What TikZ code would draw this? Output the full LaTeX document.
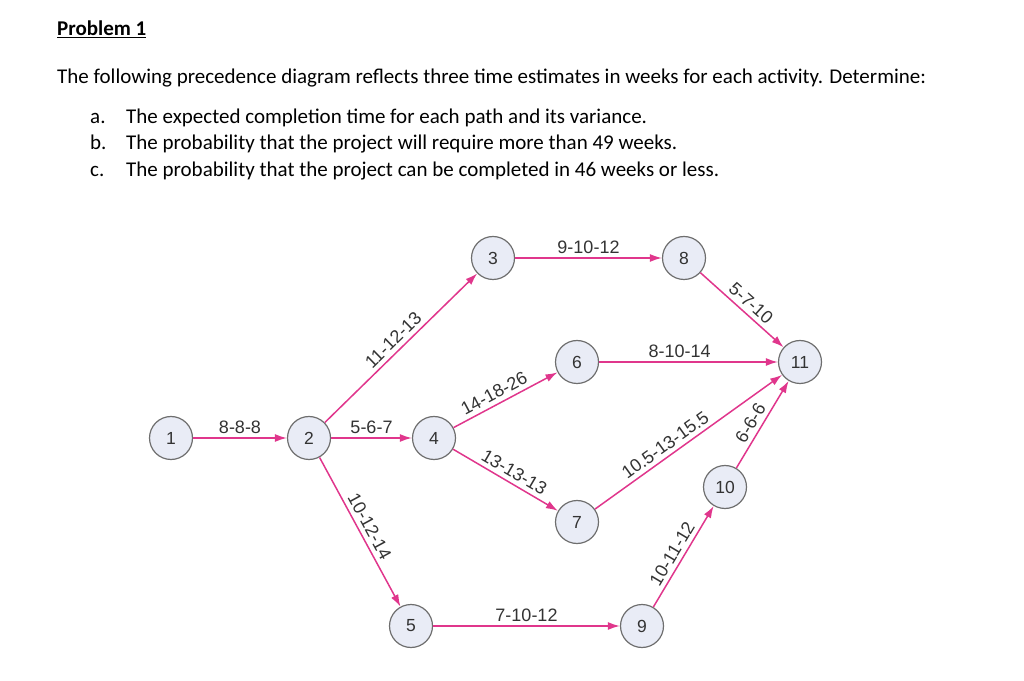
\documentclass[tikz,border=0pt]{standalone}
\usepackage{fontspec}
\setmainfont{Carlito}
\newfontfamily\diagfont{Liberation Sans}
\usetikzlibrary{arrows.meta}
\definecolor{arrowpink}{HTML}{E0368C}
\definecolor{eventfill}{HTML}{E9ECF6}
\definecolor{eventdraw}{HTML}{6E6E6E}
\definecolor{labelgray}{HTML}{333333}
\tikzset{
  event/.style={circle, draw=eventdraw, fill=eventfill, line width=1.2pt,
                minimum size=43pt, inner sep=0pt, text=labelgray,
                font=\diagfont\fontsize{17.5}{17.5}\selectfont},
  activity/.style={draw=arrowpink, line width=1.5pt,
                   -{Latex[length=12pt,width=8pt]}},
  estimate/.style={font=\diagfont\fontsize{18}{18}\selectfont,
                   text=labelgray, inner sep=4pt},
  prose/.style={anchor=base west, inner sep=0pt,
                font=\fontsize{21}{21}\selectfont}
}

\begin{document}
\begin{tikzpicture}[x=1pt, y=1pt]

	\useasboundingbox (0,0) rectangle (1024,680);

	% problem text
	\node[prose] (title) at (57,644) {\textbf{\underline{Problem 1}}};
	\node[prose] (intro) at (57,596) {The following precedence diagram reflects three time estimates in weeks for each activity. Determine:};
	\node[prose] (itema) at (90,556) {a.};
	\node[prose] (texta) at (126,556) {The expected completion time for each path and its variance.};
	\node[prose] (itemb) at (90,530) {b.};
	\node[prose] (textb) at (126,530) {The probability that the project will require more than 49 weeks.};
	\node[prose] (itemc) at (90,503) {c.};
	\node[prose] (textc) at (126,503) {The probability that the project can be completed in 46 weeks or less.};

	% events
	\node[event] (n1) at (171,242) {1};
	\node[event] (n2) at (309,242) {2};
	\node[event] (n3) at (493,422) {3};
	\node[event] (n4) at (434,242) {4};
	\node[event] (n5) at (411,54) {5};
	\node[event] (n6) at (577,318) {6};
	\node[event] (n7) at (577,158) {7};
	\node[event] (n8) at (684,422) {8};
	\node[event] (n9) at (642,54) {9};
	\node[event] (n10) at (725,193) {10};
	\node[event] (n11) at (800,318) {11};

	% activities
	\draw[activity] (n1) -- node[estimate, above] {8-8-8} (n2);
	\draw[activity] (n2) -- node[estimate, above] {5-6-7} (n4);
	\draw[activity] (n2) -- node[estimate, above, sloped, pos=0.5] {11-12-13} (n3);
	\draw[activity] (n2) -- node[estimate, above, sloped, pos=0.5] {10-12-14} (n5);
	\draw[activity] (n3) -- node[estimate, above] {9-10-12} (n8);
	\draw[activity] (n4) -- node[estimate, above, sloped, pos=0.44] {14-18-26} (n6);
	\draw[activity] (n4) -- node[estimate, above, sloped, pos=0.53] {13-13-13} (n7);
	\draw[activity] (n5) -- node[estimate, above] {7-10-12} (n9);
	\draw[activity] (n6) -- node[estimate, above, pos=0.45] {8-10-14} (n11);
	\draw[activity] (n7) -- node[estimate, above, sloped, pos=0.41] {10.5-13-15.5} (n11);
	\draw[activity] (n8) -- node[estimate, above, sloped, pos=0.52] {5-7-10} (n11);
	\draw[activity] (n9) -- node[estimate, above, sloped, pos=0.47] {10-11-12} (n10);
	\draw[activity] (n10) -- node[estimate, above, sloped, pos=0.45] {6-6-6} (n11);

\end{tikzpicture}
\end{document}
